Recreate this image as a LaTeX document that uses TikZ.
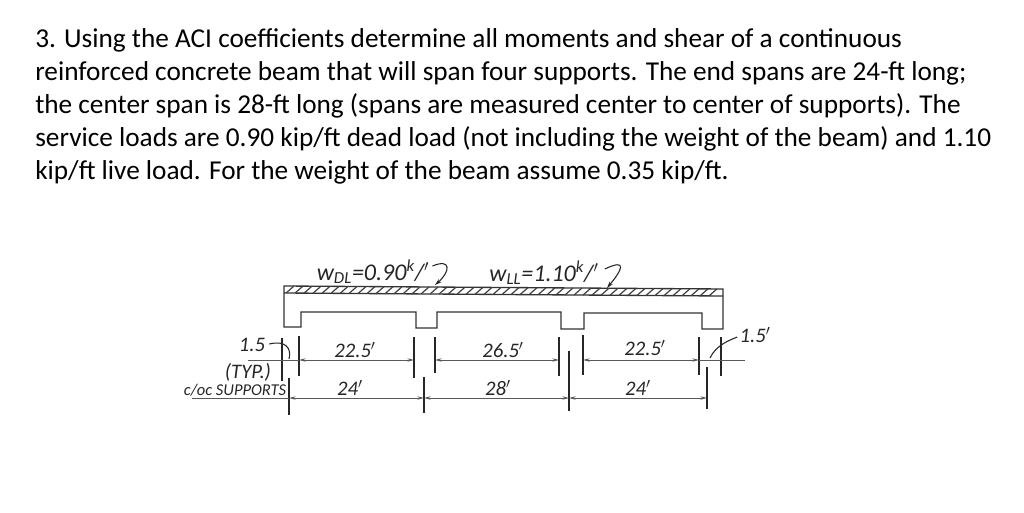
\documentclass[tikz,border=0pt]{standalone}
\usepackage{fontspec}
\setmainfont{Carlito}
\usetikzlibrary{arrows.meta}
\tikzset{
	problem/.style={anchor=north west,inner sep=0pt,align=left,font=\fontsize{20.45pt}{24.75pt}\selectfont},
	beamline/.style={line width=1pt,black!80},
	hatchline/.style={line width=0.9pt,black!75},
	ticks/.style={line width=0.9pt,black!85},
	dimline/.style={line width=0.7pt,black!65},
	dimboth/.style={dimline,{Stealth[length=5pt,width=2.5pt]}-{Stealth[length=5pt,width=2.5pt]}},
	leader/.style={line width=0.8pt,black!85},
	leaderarrow/.style={leader,-{Stealth[length=5pt,width=3pt]}},
	hand/.style={inner sep=0pt,text=black!85,font=\fontsize{15.5pt}{15.5pt}\selectfont\itshape},
	handsmall/.style={inner sep=0pt,text=black!85,font=\fontsize{12.4pt}{12.4pt}\selectfont\itshape},
	handload/.style={inner sep=0pt,text=black!85,font=\fontsize{18pt}{18pt}\selectfont\itshape}
}
\begin{document}
\begin{tikzpicture}[x=0.75pt,y=-0.75pt]
	\useasboundingbox (0,0) rectangle (1024,513);
	
	\node[problem] (question) at (35,28) {3. Using the ACI coefficients determine all moments and shear of a continuous\\
	reinforced concrete beam that will span four supports. The end spans are 24-ft long;\\
	the center span is 28-ft long (spans are measured center to center of supports). The\\
	service loads are 0.90 kip/ft dead load (not including the weight of the beam) and 1.10\\
	kip/ft live load. For the weight of the beam assume 0.35 kip/ft.};
	
	% beam
	\draw[beamline] (284,286) -- (723,289) -- (723,329) -- (702,329) -- (702,313) -- (584,313) -- (584,329) -- (561,329) -- (561,312)
		-- (437,312) -- (437,328) -- (416,328) -- (416,312) -- (301,312) -- (301,327) -- (284,327) -- cycle;
	\draw[beamline] (284,293) -- (723,296);
	\foreach \x in {290,299,...,720} {
		\pgfmathsetmacro{\ytop}{286+(\x-284)*3/439}
		\draw[hatchline] (\x-4,\ytop+7) -- (\x+4,\ytop);
	}
	
	% ticks
	\foreach \n/\x/\a/\b in {1/282/338/381,2/299/336/376,3/414/337/378,4/435/337/373,5/559/337/376,6/583/335/375,7/699/337/375,8/721/337/376} {
		\coordinate (ut\n) at (\x,\a);
		\coordinate (ub\n) at (\x,\b);
		\draw[ticks] (ut\n) -- (ub\n);
	}
	\foreach \n/\x/\a/\b in {1/289/378/415,2/424/377/413,3/569/351/411,4/707/367/409} {
		\coordinate (lt\n) at (\x,\a);
		\coordinate (lb\n) at (\x,\b);
		\draw[ticks] (lt\n) -- (lb\n);
	}
	
	% dimensions
	\coordinate (uleft) at (248,360);
	\coordinate (uright) at (745,360);
	\coordinate (lleft) at (192,398);
	\draw[dimline] (uleft) -- (ut2 |- uleft);
	\draw[dimline] (ut7 |- uleft) -- (uright);
	\draw[dimboth] (ut2 |- uleft) -- (ut3 |- uleft);
	\draw[dimboth] (ut4 |- uleft) -- (ut5 |- uleft);
	\draw[dimboth] (ut6 |- uleft) -- (ut7 |- uleft);
	\draw[dimline] (lleft) -- (lt1 |- lleft);
	\draw[dimboth] (lt1 |- lleft) -- (lt2 |- lleft);
	\draw[dimboth] (lt2 |- lleft) -- (lt3 |- lleft);
	\draw[dimboth] (lt3 |- lleft) -- (lt4 |- lleft);
	
	% labels
	\node[hand] (clear1) at (355,350) {22.5$'$};
	\node[hand] (clear2) at (503,350) {26.5$'$};
	\node[hand] (clear3) at (645,348) {22.5$'$};
	\node[hand] (span1) at (350,388) {24$'$};
	\node[hand] (span2) at (498,388) {28$'$};
	\node[hand] (span3) at (638,388) {24$'$};
	\node[hand] (sup1) at (252,345) {1.5};
	\node[hand] (sup2) at (755,335) {1.5$'$};
	\node[hand] (typ) at (248,372) {(TYP.)};
	\node[handsmall] (cc) at (235,390) {c/oc SUPPORTS};
	\node[handload] (dead) at (373,272) {w\textsubscript{DL}=0.90\textsuperscript{k}/$'$};
	\node[handload] (live) at (544,273) {w\textsubscript{LL}=1.10\textsuperscript{k}/$'$};
	
	% leaders
	\coordinate (deadtip) at (435,285);
	\coordinate (livetip) at (607,288);
	\coordinate (suptip1) at (289,359);
	\coordinate (suptip2) at (710,358);
	\draw[leaderarrow] (dead.east) ++ (3,-6) .. controls (452,258) and (450,272) .. (deadtip);
	\draw[leaderarrow] (live.east) ++ (6,-4) .. controls (628,258) and (622,270) .. (livetip);
	\draw[leader] (sup1.east) ++ (4,-1) .. controls (285,340) and (292,348) .. (suptip1);
	\draw[leader] (sup2.west) ++ (-2,2) .. controls (730,340) and (716,345) .. (suptip2);
\end{tikzpicture}
\end{document}
